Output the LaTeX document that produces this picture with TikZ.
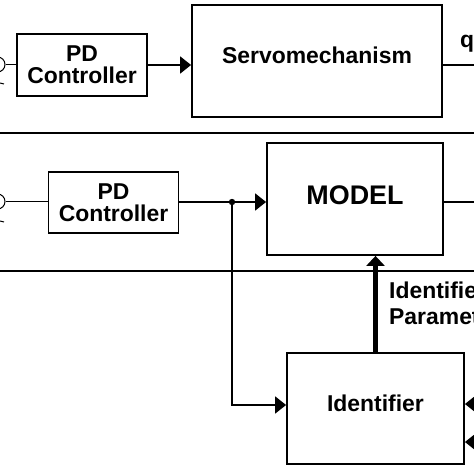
\documentclass[tikz,border=0pt]{standalone}
\usepackage{fontspec}
\setmainfont{Liberation Sans}
\usetikzlibrary{arrows.meta,positioning,calc}

\begin{document}
\begin{tikzpicture}[x=1bp,y=-1bp,>={Triangle[length=11bp,width=17bp]},
  font=\bfseries\fontsize{23}{22}\selectfont,
  blk/.style={draw,line width=1.8bp,align=center,inner sep=0pt},
  wire/.style={line width=1.8bp},
  sumpt/.style={draw,circle,line width=1bp,minimum size=15bp,inner sep=0pt}]
\clip (0,0) rectangle (474,474);
\node[blk,minimum width=130bp,minimum height=62bp] (pd1) at (82,65) {PD\\Controller};
\node[blk,minimum width=250bp,minimum height=112bp,label={[yshift=5.5bp]center:Servomechanism}] (servo) at (317,61) {};
\node[blk,minimum width=130bp,minimum height=61bp] (pd2) at (113.5,202.5) {PD\\Controller};
\node[blk,minimum width=176bp,minimum height=112bp,label={[font=\bfseries\fontsize{27}{30}\selectfont,yshift=4bp]center:MODEL}] (model) at (355,199) {};
\node[blk,minimum width=177bp,minimum height=111bp,label={[yshift=5bp]center:Identifier}] (ident) at (375.5,408.5) {};
\node[sumpt] (sum1) at (-2.5,64.5) {};
\node[sumpt] (sum2) at (-2.5,201.5) {};
\foreach \y in {133,271}{
  \draw[line width=2.2bp] (0,\y) -- (474,\y);
}
\foreach \y in {83,221}{
  \draw[line width=1bp] (0,\y) -- (4,{\y+1});
}
\draw[wire] (sum1.east) -- (sum1.east -| pd1.west);
\draw[wire,->] (pd1) -- (pd1 -| servo.west);
\coordinate (q1) at (480,65);
\draw[wire] (q1 -| servo.east) -- (q1);
\node[anchor=base west,inner sep=0pt] (qlbl) at (460,48) {q};
\draw[wire] (sum2.east) -- (sum2.east -| pd2.west);
\coordinate (j) at (232,202);
\draw[wire] (pd2.east |- j) -- (j);
\fill (j) circle (3.2bp);
\draw[wire,->] (j) -- (j -| model.west);
\coordinate (q2) at (480,202);
\draw[wire] (j -| model.east) -- (q2);
\coordinate (k) at (232,405);
\draw[wire,->] (j) -- (k) -- (k -| ident.west);
\draw[line width=5bp,-{Triangle[length=10bp,width=18bp]}] (ident.north) -- (ident.north |- model.south);
\node[anchor=north west,align=left,inner sep=0pt,font=\bfseries\fontsize{23}{26}\selectfont] (plbl) at (389,282) {Identified\\Parameters};
\foreach \y/\n in {404/r1,442/r2}{
  \coordinate (\n) at (490,\y);
  \draw[wire,->] (\n) -- (\n -| ident.east);
}
\end{tikzpicture}
\end{document}
